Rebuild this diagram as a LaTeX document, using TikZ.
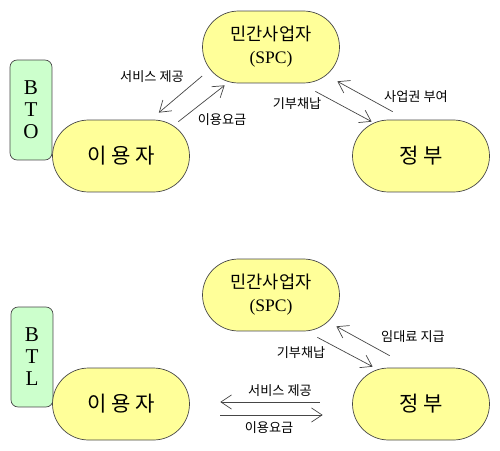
\documentclass[tikz,border=0pt]{standalone}
\usepackage{fontspec}
\setmainfont{Noto Sans CJK KR}
\newfontfamily\romanfont{Liberation Serif}
\definecolor{ppyellow}{RGB}{255,255,153}
\definecolor{ppgreen}{RGB}{204,255,204}
\definecolor{ppline}{RGB}{70,70,70}
\usetikzlibrary{arrows.meta}

\begin{document}
\begin{tikzpicture}[x=0.02cm,y=-0.02cm,
  ppparty/.style={draw=ppline,fill=ppyellow,rounded corners=0.72cm,minimum width=2.74cm,
    minimum height=1.44cm,align=center,font=\fontsize{12}{14}\selectfont},
  ppspc/.style={ppparty,font=\fontsize{10}{13}\selectfont},
  pptype/.style={draw=ppline,fill=ppgreen,rounded corners=4pt,minimum width=0.84cm,
    minimum height=2cm,align=center,font=\romanfont\fontsize{12}{12.5}\selectfont},
  ppflow/.style={-{Straight Barb[length=6pt,width=8pt]},ppline,thin},
  pplabel/.style={font=\fontsize{7.5}{9}\selectfont}
]
  \useasboundingbox (0,0) rectangle (500,450);
  % BTO
  \node[pptype] (bto) at (31,110) {B\\T\\O};
  \node[ppspc] (spc) at (271,47) {민간사업자\\{\romanfont (SPC)}};
  \node[ppparty] (user) at (121,156) {이 용 자};
  \node[ppparty] (gov) at (421,156) {정 부};
  % Arrows
  \draw[ppflow] ([shift={(0,29)}]spc.west) -- ([shift={(-31,-7)}]user.north east);
  \draw[ppflow] ([shift={(-11.5,2)}]user.north east) -- ([shift={(22.5,2)}]spc.south west);
  \draw[ppflow] ([shift={(-24.5,8)}]spc.south east) -- ([shift={(19.5,2)}]gov.north west);
  \draw[ppflow] ([shift={(40.5,-8)}]gov.north west) -- ([shift={(-2.5,-2)}]spc.south east);
  \node[pplabel] (l1) at (152,77) {서비스 제공};
  \node[pplabel] (l2) at (222,120) {이용요금};
  \node[pplabel] (l3) at (297,104) {기부채납};
  \node[pplabel] (l4) at (416,97) {사업권 부여};
  % BTL
  \node[pptype] (btl) at (32,357) {B\\T\\L};
  \node[ppspc] (spc2) at (271,295) {민간사업자\\{\romanfont (SPC)}};
  \node[ppparty] (user2) at (121,404) {이 용 자};
  \node[ppparty] (gov2) at (421,404) {정 부};
  % Arrows
  \draw[ppflow] ([shift={(-22.5,6)}]spc2.south east) -- ([shift={(20.5,-1)}]gov2.north west);
  \draw[ppflow] ([shift={(37.5,-12)}]gov2.north west) -- ([shift={(-3.5,-5)}]spc2.south east);
  \draw[ppflow] ([shift={(-32.5,-2)}]gov2.west) -- ([shift={(30.5,-2)}]user2.east);
  \draw[ppflow] ([shift={(30.5,11)}]user2.east) -- ([shift={(-29.5,11)}]gov2.west);
  \node[pplabel] (l5) at (301,353) {기부채납};
  \node[pplabel] (l6) at (413,337) {임대료 지급};
  \node[pplabel] (l7) at (280,391) {서비스 제공};
  \node[pplabel] (l8) at (269,428) {이용요금};
\end{tikzpicture}
\end{document}
